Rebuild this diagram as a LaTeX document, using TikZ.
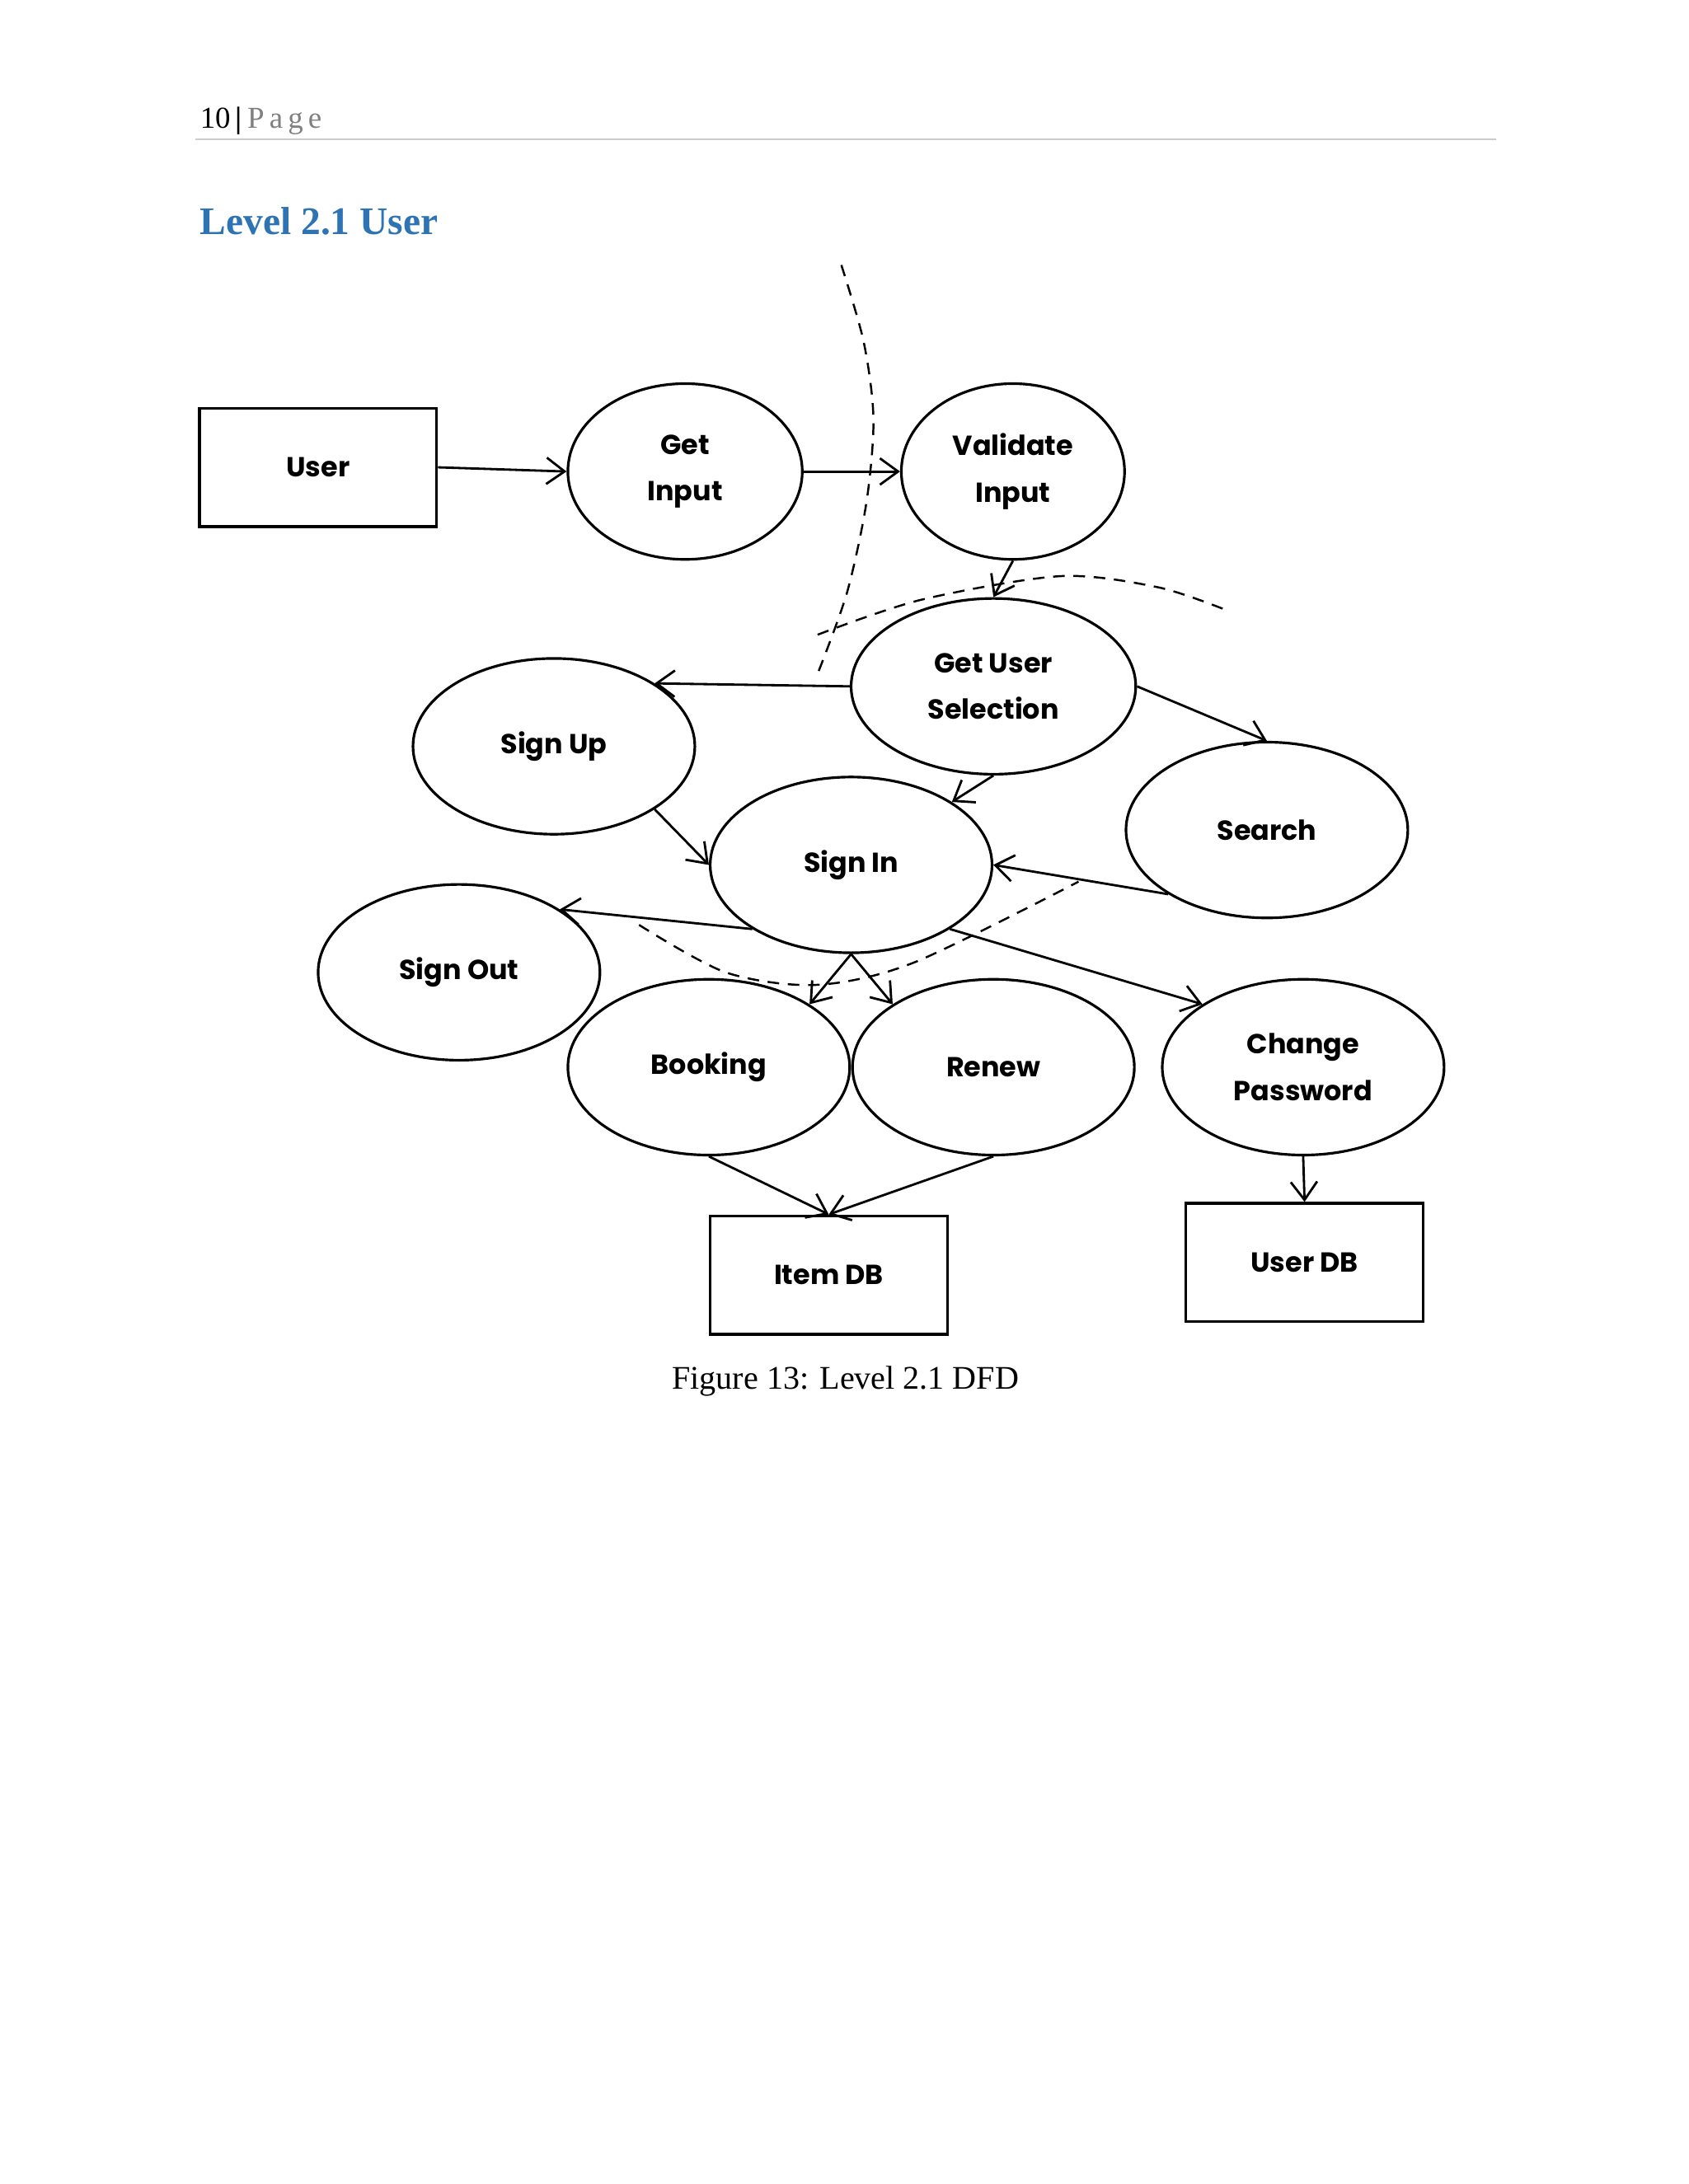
\documentclass[tikz,border=0pt]{standalone}
\usepackage{fontspec}
\setmainfont{Liberation Serif}
\newfontfamily\nf{Poppins}
\usetikzlibrary{arrows.meta,shapes.geometric}
\definecolor{ttl}{RGB}{46,116,181}
\begin{document}
\begin{tikzpicture}[x=0.016926cm,y=-0.016926cm,
  proc/.style={draw,ellipse,line width=0.9pt,minimum width=#1,minimum height=126*0.016926cm,inner sep=0pt,align=center,font=\nf\bfseries\fontsize{9.5}{16}\selectfont},
  proc/.default={202*0.016926cm},
  ent/.style={draw,rectangle,line width=0.9pt,minimum width=170*0.016926cm,minimum height=85*0.016926cm,font=\nf\bfseries\fontsize{9.5}{16}\selectfont},
  flow/.style={line width=0.8pt,-{Straight Barb[length=2.2mm,width=3.2mm]}},
  bnd/.style={dashed,line width=0.7pt,dash pattern=on 4pt off 3pt}]
\useasboundingbox (0,0) rectangle (1210,1565.6);
\fill[white] (0,0) rectangle (1210,1565.6);
\node[anchor=base west,inner sep=0pt,font=\fontsize{10.5}{12}\selectfont] (hdr) at (143,92) {10\,\textbf{|}\,\textcolor{gray}{P\,a\,g\,e}};
\draw[gray!40,line width=0.6pt] (140,100) -- (1072,100);
\node[anchor=base west,inner sep=0pt,text=ttl,font=\bfseries\fontsize{13.5}{16}\selectfont] (title) at (143,168) {Level 2.1 User};

\node[ent] (user) at (228,335) {User};
\node[proc={168*0.016926cm}] (gi) at (491,338) {Get\\Input};
\node[proc={160*0.016926cm}] (vi) at (726,338) {Validate\\Input};
\node[proc={204*0.016926cm}] (gus) at (712,492) {Get User\\Selection};
\node[proc] (su) at (397,535) {Sign Up};
\node[proc] (se) at (908,595) {Search};
\node[proc] (si) at (610,620) {Sign In};
\node[proc] (so) at (329,697) {Sign Out};
\node[proc] (bk) at (508,765) {Booking};
\node[proc] (rn) at (712,765) {Renew};
\node[proc] (cp) at (934,765) {Change\\Password};
\node[ent] (idb) at (594,914) {Item DB};
\node[ent] (udb) at (935,905) {User DB};

\draw[flow] (user.east) -- (gi.west);
\draw[flow] (gi.east) -- (vi.west);
\draw[flow] (vi.south) -- (gus.north);
\draw[flow] (gus.west) -- (su.32);
\draw[flow] (gus.east) -- (se.north);
\draw[flow] (gus.south) -- (si.32);
\draw[flow] (su.-32) -- (si.west);
\draw[flow] (se.213) -- (si.east);
\draw[flow] (si.213) -- (so.32);
\draw[flow] (si.south) -- (bk.32);
\draw[flow] (si.south) -- (rn.148);
\draw[flow] (si.-33) -- (cp.148);
\draw[flow] (bk.south) -- (idb.north);
\draw[flow] (rn.south) -- (idb.north);
\draw[flow] (cp.south) -- (udb.north);

\draw[bnd] plot[smooth] coordinates {(603,190) (619,245) (626,300) (621,360) (607,425) (586,483)};
\draw[bnd] plot[smooth] coordinates {(586,455) (660,430) (760,413) (830,421) (878,437)};
\draw[bnd] plot[smooth] coordinates {(458,663) (520,697) (585,706) (655,690) (773,632)};

\node[font=\fontsize{11.4}{14}\selectfont] (cap) at (606,990) {Figure 13: Level 2.1 DFD};
\end{tikzpicture}
\end{document}
